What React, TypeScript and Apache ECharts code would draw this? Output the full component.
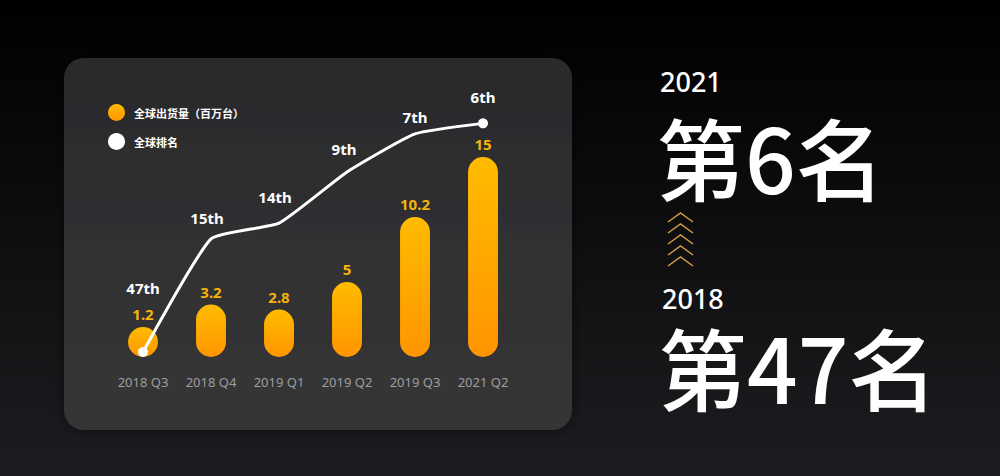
import React, { useEffect, useRef } from "react";
import * as echarts from "echarts";

const quarters = ["2018 Q3", "2018 Q4", "2019 Q1", "2019 Q2", "2019 Q3", "2021 Q2"];
const shipments = [1.2, 3.2, 2.8, 5, 10.2, 15];
const rankLabels = ["47th", "15th", "14th", "9th", "7th", "6th"];
// vertical position of the rank line (0-100 scale)
const rankLinePos = [1.9, 45, 51, 70.5, 85, 89];
const legendNames = ["全球出货量（百万台）", "全球排名"];
const headline = { year1: "2021", rank1: "第6名", year2: "2018", rank2: "第47名" };

const SANS = "'Noto Sans', 'Noto Sans CJK SC', sans-serif";
const CJK = "'Noto Sans CJK SC', 'Noto Sans', sans-serif";

export default function App() {
  const ref = useRef<HTMLDivElement>(null);

  useEffect(() => {
    if (!ref.current) return;
    const chart = echarts.init(ref.current, null, { renderer: "svg" });

    const barGrad = () =>
      new echarts.graphic.LinearGradient(0, 0, 0, 1, [
        { offset: 0, color: "#ffbb00" },
        { offset: 1, color: "#ff9500" },
      ]);

    const labelOpts = [
      { distance: 51.5, offset: [0, 0] },
      { distance: 12.5, offset: [-4, 0] },
      { distance: 17.5, offset: [-4, 0] },
      { distance: 14.5, offset: [-3, 0] },
      { distance: 8.5, offset: [0, 0] },
      { distance: 13.5, offset: [0, 0] },
    ];

    const chevrons = [213, 224, 235, 246, 257].map((py) => ({
      type: "polyline",
      z: 1,
      shape: { points: [[668, py + 9], [680.5, py], [693, py + 9]] },
      style: { stroke: "#cf9d44", lineWidth: 1.5, fill: "none" },
    }));

    const yMin = -1;

    chart.setOption({
      animation: false,
      backgroundColor: new echarts.graphic.LinearGradient(0, 0, 0, 1, [
        { offset: 0, color: "#000000" },
        { offset: 1, color: "#1d1d21" },
      ]),
      grid: { left: 109, right: 483, top: 94.5, bottom: 119, containLabel: false },
      legend: {
        orient: "vertical",
        left: 103,
        top: 99,
        itemWidth: 17,
        itemHeight: 17,
        itemGap: 12,
        textStyle: { color: "#ffffff", fontSize: 11, fontWeight: "bold", fontFamily: CJK, padding: [0, 0, 0, 4] },
        data: [
          {
            name: legendNames[0],
            icon: "circle",
            itemStyle: {
              color: new echarts.graphic.LinearGradient(0, 0, 0, 1, [
                { offset: 0, color: "#ffbb00" },
                { offset: 1, color: "#ff9500" },
              ]),
            },
          },
          { name: legendNames[1], icon: "circle", itemStyle: { color: "#ffffff" }, lineStyle: { opacity: 0 } },
        ],
      },
      xAxis: {
        type: "category",
        data: quarters,
        axisLine: { show: false },
        axisTick: { show: false },
        axisLabel: { color: "#9d9d9d", fontSize: 13, fontFamily: SANS, margin: 18 },
      },
      yAxis: [
        { type: "value", min: yMin, max: 20, show: false, splitLine: { show: false } },
        { type: "value", min: 0, max: 100, show: false, splitLine: { show: false } },
      ],
      graphic: [
        {
          type: "rect",
          z: 0,
          shape: { x: 64, y: 58, width: 508, height: 372, r: 20 },
          style: {
            fill: new echarts.graphic.LinearGradient(0, 0, 0, 1, [
              { offset: 0, color: "#2a2a2b" },
              { offset: 1, color: "#363637" },
            ]),
            shadowBlur: 12,
            shadowColor: "rgba(0,0,0,0.5)",
          },
        },
        {
          type: "text",
          z: 1,
          x: 660,
          y: 81,
          style: { text: headline.year1, fill: "#ffffff", font: `500 27px ${SANS}`, lineHeight: 24, verticalAlign: "middle" },
        },
        {
          type: "text",
          z: 1,
          x: 656,
          y: 155,
          style: { text: headline.rank1, fill: "#ffffff", font: `500 89px ${CJK}`, lineHeight: 80, verticalAlign: "middle" },
        },
        {
          type: "text",
          z: 1,
          x: 662,
          y: 298,
          style: { text: headline.year2, fill: "#ffffff", font: `500 27px ${SANS}`, lineHeight: 24, verticalAlign: "middle" },
        },
        {
          type: "text",
          z: 1,
          x: 658,
          y: 365,
          style: { text: headline.rank2, fill: "#ffffff", font: `500 89px ${CJK}`, lineHeight: 80, verticalAlign: "middle" },
        },
        ...chevrons,
      ],
      series: [
        {
          name: legendNames[0],
          type: "custom",
          z: 2,
          encode: { x: 0, y: 1 },
          data: shipments.map((v, i) => [i, v]),
          renderItem: (params: any, api: any) => {
            const idx = api.value(0);
            const v = api.value(1);
            const top = api.coord([idx, v]);
            const base = api.coord([idx, yMin]);
            const w = api.size([1, 0])[0] * 0.44;
            let h = base[1] - top[1];
            if (h < w) h = w;
            const y = base[1] - h;
            return {
              type: "group",
              children: [
                {
                  type: "rect",
                  shape: { x: top[0] - w / 2, y, width: w, height: h, r: w / 2 },
                  style: { fill: barGrad() },
                },
                {
                  type: "text",
                  x: top[0],
                  y: y - 13,
                  style: {
                    text: String(v),
                    fill: "#f6b30c",
                    font: `bold 15px ${SANS}`,
                    align: "center",
                    verticalAlign: "middle",
                  },
                },
              ],
            };
          },
        },
        {
          name: legendNames[1],
          type: "line",
          yAxisIndex: 1,
          z: 5,
          smooth: 0.15,
          lineStyle: { color: "#ffffff", width: 3 },
          itemStyle: { color: "#ffffff" },
          symbol: "circle",
          data: rankLinePos.map((v, i) => ({
            value: v,
            symbolSize: i === 0 || i === rankLinePos.length - 1 ? 10 : 2,
            label: {
              show: true,
              position: "top",
              distance: labelOpts[i].distance,
              offset: labelOpts[i].offset,
              formatter: rankLabels[i],
              color: "#ffffff",
              fontSize: 15,
              fontWeight: "bold",
              fontFamily: SANS,
            },
          })),
        },
      ],
    });

    return () => chart.dispose();
  }, []);

  return (
    <div
      ref={ref}
      style={{ position: "fixed", left: 0, top: 0, width: 1000, height: 476 }}
    />
  );
}
